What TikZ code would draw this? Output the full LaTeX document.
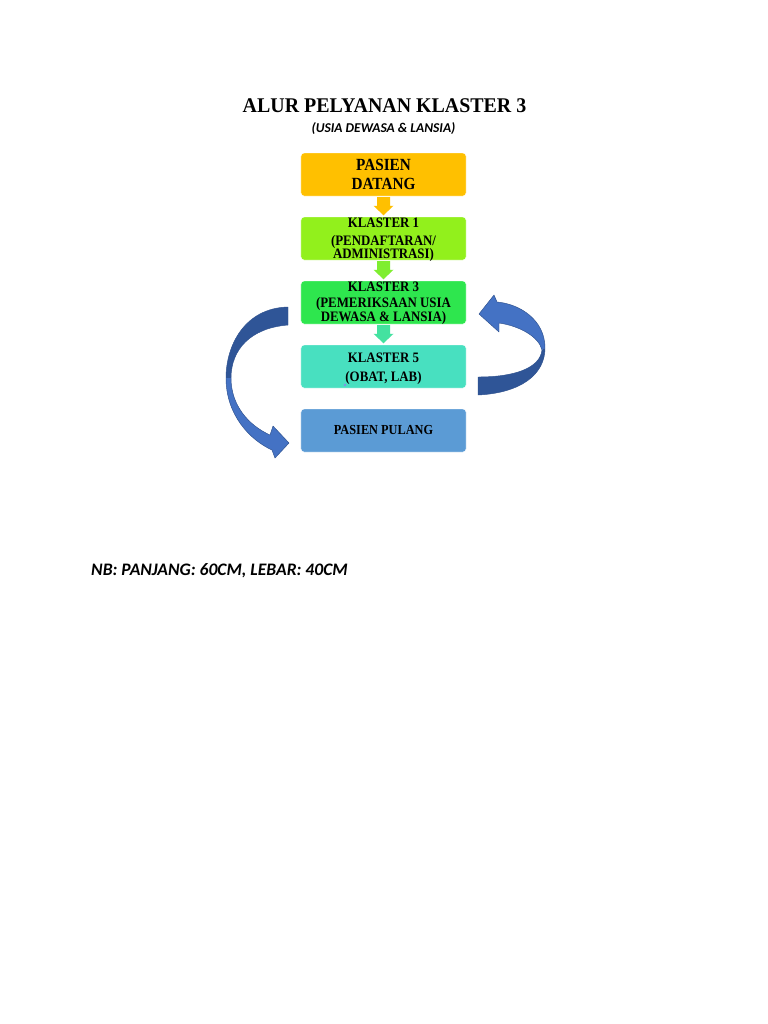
\documentclass[tikz,border=0pt]{standalone}
\usepackage{graphicx}
\usepackage{fontspec}
\setmainfont{Liberation Serif}
\newfontfamily\carlfont{Carlito}
\usetikzlibrary{calc}
\definecolor{cOrange}{HTML}{FFC000}
\definecolor{cLime}{HTML}{92F01C}
\definecolor{cGreen}{HTML}{2EE64E}
\definecolor{cTeal}{HTML}{48E0C0}
\definecolor{cBlue}{HTML}{5B9BD5}
\definecolor{aLime}{HTML}{7FEE30}
\definecolor{aMint}{HTML}{44E2A0}
\definecolor{cvLight}{HTML}{4472C4}
\definecolor{cvDark}{HTML}{2F5597}
\definecolor{cvLine}{HTML}{2F528F}
\definecolor{dotcol}{HTML}{8A8AE6}
\newcommand\tallt[1]{\scalebox{1}[1.12]{#1}}
\newcommand\blockdown[3]{%
  \fill[#3] ($(#1.south)+(-6.5,1)$) -- ($(#1.south)+(6.5,1)$) --
    ($(#2.north)+(6.5,-11)$) -- ($(#2.north)+(10,-11)$) --
    ($(#2.north)+(0,-1.5)$) -- ($(#2.north)+(-10,-11)$) --
    ($(#2.north)+(-6.5,-11)$) -- cycle;}
\begin{document}
\begin{tikzpicture}[x=0.03cm,y=-0.03cm,
  flowbox/.style={draw=white, line width=0.4pt, rounded corners=0.09cm,
    minimum width=4.95cm, minimum height=1.29cm, inner sep=0pt},
  lnbig/.style={font=\bfseries\fontsize{13}{15}\selectfont, anchor=base, inner sep=0pt},
  ln/.style={font=\bfseries\fontsize{11}{13}\selectfont, anchor=base, inner sep=0pt},
  lnsmall/.style={font=\bfseries\fontsize{10.5}{12}\selectfont, anchor=base, inner sep=0pt},
  curvearrow/.style={draw=cvLine, line width=0.4pt, line join=round}]
\fill[white] (0,0) rectangle (768,1024);
\useasboundingbox (0,0) rectangle (768,1024);

% title
\node[font=\bfseries\fontsize{17}{20}\selectfont, anchor=base, inner sep=0pt] (title) at (384.5,112) {\scalebox{1}[1.05]{ALUR PELYANAN KLASTER 3}};
\node[font=\carlfont\bfseries\itshape\fontsize{11.5}{14}\selectfont, anchor=base, inner sep=0pt] (sub) at (383.5,132) {(USIA DEWASA \& LANSIA)};

% boxes
\node[flowbox, fill=cOrange] (b1) at (383.5,174.5) {};
\node[flowbox, fill=cLime]   (b2) at (383.5,238.5) {};
\node[flowbox, fill=cGreen]  (b3) at (383.5,302.5) {};
\node[flowbox, fill=cTeal]   (b4) at (383.5,366.5) {};
\node[flowbox, fill=cBlue]   (b5) at (383.5,430.5) {};

% small block arrows
\blockdown{b1}{b2}{cOrange}
\blockdown{b2}{b3}{aLime}
\blockdown{b3}{b4}{aMint}

% curved arrow left (K3 -> Pasien Pulang)
\fill[cvDark] (288,307) .. controls (245,308) and (226,345) .. (226,378)
  -- (231,378) .. controls (231,350) and (250,328) .. (288,325) -- cycle;
\fill[cvLight] (226,378) .. controls (226,415) and (250,440) .. (272,450)
  -- (275,458) -- (289,443) -- (273,426) -- (270,435)
  .. controls (248,425) and (231,405) .. (231,378) -- cycle;
\draw[curvearrow] (288,307) .. controls (245,308) and (226,345) .. (226,378)
  .. controls (226,415) and (250,440) .. (272,450)
  -- (275,458) -- (289,443) -- (273,426) -- (270,435)
  .. controls (248,425) and (231,405) .. (231,378)
  .. controls (231,350) and (250,328) .. (288,325) -- cycle;

% curved arrow right (K5 -> K3)
\fill[cvLight] (545,348) .. controls (545,320) and (520,304) .. (497,302)
  -- (494,295) -- (479,314) -- (499,332) -- (499,323)
  .. controls (520,326) and (539,337) .. (542,350) -- cycle;
\fill[cvDark] (545,348) .. controls (545,375) and (520,393) .. (478,395)
  -- (478,377) .. controls (515,377) and (540,368) .. (542,350) -- cycle;
\draw[curvearrow] (478,395) .. controls (520,393) and (545,375) .. (545,348)
  .. controls (545,320) and (520,304) .. (497,302)
  -- (494,295) -- (479,314) -- (499,332) -- (499,323)
  .. controls (520,326) and (539,337) .. (542,350)
  .. controls (540,368) and (515,377) .. (478,377) -- cycle;

% box texts
\node[lnbig] (t1a) at (383.5,170) {\tallt{PASIEN}};
\node[lnbig] (t1b) at (383.5,189) {\tallt{DATANG}};
\node[ln] (t2a) at (383.5,227) {\tallt{KLASTER 1}};
\node[ln] (t2b) at (383.5,245) {\tallt{(PENDAFTARAN/}};
\node[ln] (t2c) at (383.5,258.5) {\tallt{ADMINISTRASI)}};
\node[ln] (t3a) at (383.5,291) {\tallt{KLASTER 3}};
\node[ln] (t3b) at (383.5,307.5) {\tallt{(PEMERIKSAAN USIA}};
\node[ln] (t3c) at (383.5,321) {\tallt{DEWASA \& LANSIA)}};
\node[ln] (t4a) at (383.5,362) {\tallt{KLASTER 5}};
\node[ln] (t4b) at (383.5,381) {\tallt{(OBAT, LAB)}};
\node[lnsmall] (t5a) at (383.5,434) {\tallt{PASIEN PULANG}};

\fill[dotcol] (345,385) circle (1.4);

% note
\node[font=\carlfont\bfseries\itshape\fontsize{15}{18}\selectfont, anchor=base west, inner sep=0pt] (nb) at (91,575) {NB: PANJANG: 60CM, LEBAR: 40CM};
\end{tikzpicture}
\end{document}
